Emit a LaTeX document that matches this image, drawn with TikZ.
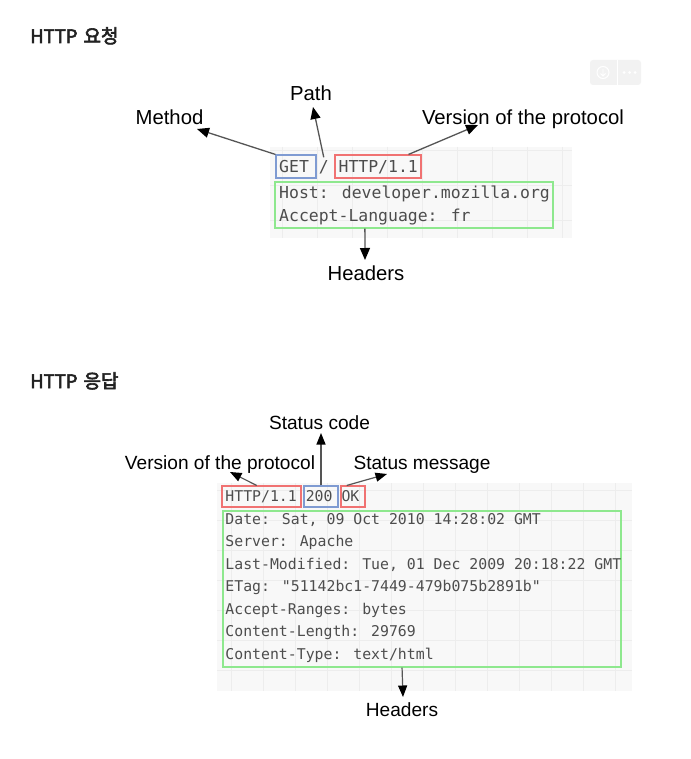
\documentclass[tikz,border=0pt]{standalone}
\usepackage{fontspec}
\setmainfont{Liberation Sans}
\newfontfamily\monof{DejaVu Sans Mono}
\newfontfamily\krf[FakeBold=3]{Noto Sans CJK KR}
\usetikzlibrary{arrows.meta,calc}
\definecolor{monotext}{HTML}{4D4D4D}
\definecolor{boxblue}{HTML}{7F9BD2}
\definecolor{boxred}{HTML}{F07272}
\definecolor{boxgreen}{HTML}{8EE88E}
\definecolor{arrgray}{HTML}{555555}
\definecolor{panelbg}{HTML}{F8F8F8}
\definecolor{gridc}{HTML}{EDEDED}
\definecolor{toolbg}{HTML}{F2F2F2}
\definecolor{headc}{HTML}{222222}
\newcommand\kspace{\hspace{6pt}\fontsize{19}{21}\selectfont}
\tikzset{
  heading/.style={font=\krf\fontsize{18.5}{21}\selectfont, text=headc, anchor=base west, inner sep=0},
  lbltop/.style={font=\fontsize{20.3}{23}\selectfont, anchor=base, inner sep=0, text=black},
  lblbot/.style={font=\fontsize{19.1}{22}\selectfont, anchor=base, inner sep=0, text=black},
  monotop/.style={font=\monof\fontsize{16.45}{18}\selectfont, text=monotext, anchor=base west, inner sep=0},
  monobot/.style={font=\monof\fontsize{14.83}{17}\selectfont, text=monotext, anchor=base west, inner sep=0},
  codebox/.style={draw, line width=1.1pt, inner sep=0, fill=none},
  bluebox/.style={codebox, draw=boxblue},
  redbox/.style={codebox, draw=boxred},
  greenbox/.style={codebox, draw=boxgreen},
  arrtop/.style={draw=arrgray, line width=1.3pt, -{Triangle[length=12pt,width=10pt,color=black]}},
  arrbot/.style={draw=arrgray, line width=1.2pt, -{Triangle[length=11.5pt,width=9pt,color=black]}},
}
\begin{document}
\begin{tikzpicture}[x=1pt,y=-1pt]
\useasboundingbox (0,0) rectangle (690,759);
\fill[white] (0,0) rectangle (690,759);

% toolbar
\fill[toolbg, rounded corners=3pt] (590,60) rectangle (641,85);
\draw[white, line width=0.8pt] (617,60) -- (617,85);
\draw[white, line width=1pt] (603,72.5) circle (6);
\draw[white, line width=0.9pt] (603,69) -- (603,75.5) (600.5,73.5) -- (603,76) -- (605.5,73.5);
\foreach \dx in {624,629.5,635} \fill[white] (\dx,72.5) circle (1.5);

% headings
\node[heading] (h1) at (30,43) {HTTP\kspace 요청};
\node[heading] (h2) at (30,388) {HTTP\kspace 응답};

% ===== request panel =====
\fill[panelbg] (270,147) rectangle (572,238);
\begin{scope}
\clip (270,147) rectangle (572,238);
\foreach \gx in {282,317,352,387,422,457,492,527,562} \draw[gridc, line width=0.6pt] (\gx,147) -- (\gx,238);
\foreach \gy in {150,185,220} \draw[gridc, line width=0.6pt] (270,\gy) -- (572,\gy);
\end{scope}

\node[bluebox, minimum width=40pt, minimum height=23pt] (get) at (296,166.5) {};
\node[redbox, minimum width=86pt, minimum height=23pt] (ver) at (378,166.5) {};
\node[greenbox, minimum width=278pt, minimum height=46pt] (hdr) at (414,205) {};

\node[monotop] (gett) at (279,173) {GET};
\node[monotop, inner ysep=3.5pt] (slash) at (318.6,173) {/};
\node[monotop] (vert) at (338.4,173) {HTTP/1.1};
\node[monotop] (host) at (279,198.5) {Host: developer.mozilla.org};
\node[monotop] (acc) at (279,222) {Accept-Language: fr};

\node[lbltop] (method) at (169.5,125) {Method};
\node[lbltop] (path) at (311,100.7) {Path};
\node[lbltop] (version) at (523,125) {Version of the protocol};
\node[lbltop] (headers) at (366,280) {Headers};

\coordinate (mtip) at (197,129);
\coordinate (ptip) at (313,107);
\coordinate (vtip) at (478,125);
\coordinate (htip) at (365,260);

\draw[arrtop] (get.north west) -- (mtip);
\draw[arrtop] (slash.north) -- (ptip);
\draw[arrtop] ($(ver.north west)!0.85!(ver.north east)$) -- (vtip);
\draw[arrtop] ($(hdr.south west)!0.324!(hdr.south east)$) -- (htip);

% ===== response panel =====
\fill[panelbg] (217,483) rectangle (632,691);
\begin{scope}
\clip (217,483) rectangle (632,691);
\foreach \gx in {231,263,295,327,359,391,423,455,487,519,551,583,615} \draw[gridc, line width=0.6pt] (\gx,483) -- (\gx,691);
\foreach \gy in {490,520,550,580,610,640,670} \draw[gridc, line width=0.6pt] (217,\gy) -- (632,\gy);
\end{scope}

\node[redbox, minimum width=79pt, minimum height=21pt] (vr) at (261.5,496.5) {};
\node[bluebox, minimum width=34pt, minimum height=21pt] (code) at (321,496.5) {};
\node[redbox, minimum width=24pt, minimum height=21pt] (msg) at (353,496.5) {};
\node[greenbox, minimum width=398pt, minimum height=156pt] (hdr2) at (422,589) {};

\node[monobot] (vrt) at (225.2,501.7) {HTTP/1.1};
\node[monobot] (codet) at (305.6,501.7) {200};
\node[monobot] (msgt) at (341.3,501.7) {OK};
\node[monobot] (l1) at (225.2,524.5) {Date: Sat, 09 Oct 2010 14:28:02 GMT};
\node[monobot] (l2) at (225.2,546.9) {Server: Apache};
\node[monobot] (l3) at (225.2,569.3) {Last-Modified: Tue, 01 Dec 2009 20:18:22 GMT};
\node[monobot] (l4) at (225.2,591.7) {ETag: "51142bc1-7449-479b075b2891b"};
\node[monobot] (l5) at (225.2,614.1) {Accept-Ranges: bytes};
\node[monobot] (l6) at (225.2,636.5) {Content-Length: 29769};
\node[monobot] (l7) at (225.2,659) {Content-Type: text/html};

\node[lblbot] (scode) at (319.5,429) {Status code};
\node[lblbot] (version2) at (220,469) {Version of the protocol};
\node[lblbot] (smsg) at (422,469) {Status message};
\node[lblbot] (headers2) at (402,716) {Headers};

\coordinate (v2tip) at (230,472);
\coordinate (ctip) at (321,433);
\coordinate (stip) at (387,474);
\coordinate (h2tip) at (403,697);

\draw[arrbot] ($(vr.north west)!0.44!(vr.north east)$) -- (v2tip);
\draw[arrbot] (code.north) -- (ctip);
\draw[arrbot] ($(msg.north west)!0.25!(msg.north east)$) -- (stip);
\draw[arrbot] ($(hdr2.south west)!0.45!(hdr2.south east)$) -- (h2tip);
\end{tikzpicture}
\end{document}
